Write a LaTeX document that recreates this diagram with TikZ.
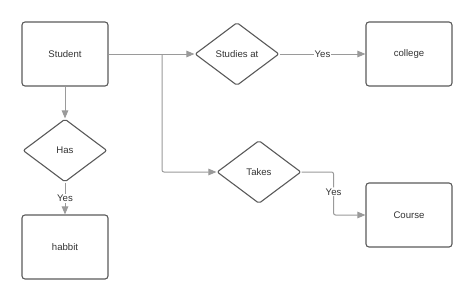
\documentclass[tikz,border=0pt]{standalone}
\usepackage{fontspec}
\setmainfont{Liberation Sans}
\usetikzlibrary{shapes.geometric,arrows.meta}
\definecolor{shapeline}{HTML}{5A5A5A}
\definecolor{conline}{HTML}{9A9A9A}
\definecolor{txt}{HTML}{333333}
\begin{document}
\begin{tikzpicture}[x=1pt,y=-1pt,
  font=\fontsize{9.6pt}{11pt}\selectfont,
  entity/.style={draw=shapeline,line width=1.1pt,rounded corners=3pt,minimum width=86pt,minimum height=64pt,inner sep=0pt,text=txt},
  rel/.style={diamond,draw=shapeline,line width=1.1pt,rounded corners=2pt,aspect=1.333,minimum width=84pt,minimum height=63pt,inner sep=0pt,text=txt},
  con/.style={draw=conline,line width=1pt,-{Triangle[length=8pt,width=6.5pt]}},
  lbl/.style={fill=white,inner sep=1pt,text=txt}]
\useasboundingbox (0,0) rectangle (474,301);
\node[entity] (student) at (65,54) {Student};
\node[rel] (has) at (65,150.5) {Has};
\node[entity] (habbit) at (65,247) {habbit};
\node[rel] (studies) at (237,54) {Studies at};
\node[entity] (college) at (409,54) {college};
\node[rel] (takes) at (259,172) {Takes};
\node[entity] (course) at (409,215) {Course};
\coordinate (br) at (162,54);
\draw[con] (student.east) -- (studies.west);
\draw[con,rounded corners=2pt] (br) |- (takes.west);
\draw[con] (student.south) -- (has.north);
\draw[con] (has.south) -- node[lbl]{Yes} (habbit.north);
\draw[con] (studies.east) -- node[lbl]{Yes} (college.west);
\draw[con,rounded corners=2pt] (takes.east) -- ++(32,0) |- node[lbl,pos=0.23]{Yes} (course.west);
\end{tikzpicture}
\end{document}
